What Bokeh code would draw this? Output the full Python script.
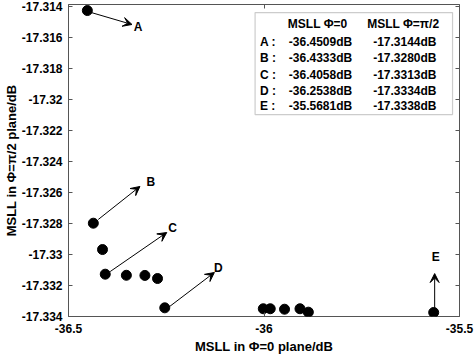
from bokeh.plotting import figure
from bokeh.models import (ColumnDataSource, Arrow, VeeHead, LinearAxis, FixedTicker,
                          BoxAnnotation, Range1d)
from bokeh.core.properties import value
from bokeh.embed import file_html
from bokeh.resources import INLINE

# ---- data ----
x_pts = [-36.4518, -36.4365, -36.4130, -36.4060, -36.3520, -36.3046, -36.2723, -36.2538,
         -36.0018, -35.9840, -35.9475, -35.9080, -35.8866, -35.5660]
y_pts = [-17.31426, -17.32798, -17.32968, -17.33127, -17.33134, -17.33135, -17.33155, -17.33344,
         -17.33350, -17.33350, -17.33353, -17.33350, -17.33372, -17.33374]

arrow_names = ["A", "B", "C", "D", "E"]
arrow_x0 = [-36.4416, -36.4239, -36.3934, -36.2411, -35.5635]
arrow_y0 = [-17.31439, -17.32774, -17.33110, -17.33335, -17.33342]
arrow_x1 = [-36.3376, -36.3173, -36.2487, -36.1269, -35.5635]
arrow_y1 = [-17.31516, -17.32561, -17.32858, -17.33116, -17.33123]
label_x = [-36.3223, -36.2893, -36.2335, -36.1168, -35.5609]
label_y = [-17.31529, -17.32535, -17.32826, -17.33090, -17.33013]

x_ticks = [-36.5, -36.0, -35.5]
x_tick_labels = ["-36.5", "-36", "-35.5"]
y_ticks = [-17.334, -17.332, -17.330, -17.328, -17.326, -17.324, -17.322, -17.320,
           -17.318, -17.316, -17.314]
y_tick_labels = ["-17.334", "-17.332", "-17.33", "-17.328", "-17.326", "-17.324", "-17.322",
                 "-17.32", "-17.318", "-17.316", "-17.314"]

table_headers = ["MSLL \u03a6=0", "MSLL \u03a6=\u03c0/2"]
table_rows = ["A :", "B :", "C :", "D :", "E :"]
table_col1 = ["-36.4509dB", "-36.4333dB", "-36.4058dB", "-36.2538dB", "-35.5681dB"]
table_col2 = ["-17.3144dB", "-17.3280dB", "-17.3313dB", "-17.3334dB", "-17.3338dB"]

# table layout (data units)
tab_left, tab_right, tab_top, tab_bottom = -36.0228, -35.5178, -17.31439, -17.32097
tab_header_y = -17.31516
tab_row_y = [-17.31626, -17.31732, -17.31839, -17.31942, -17.32045]
tab_label_x = -36.0102
tab_col1_x = -35.9365
tab_col2_x = -35.7208
tab_head1_x = -35.9390
tab_head2_x = -35.7360

FONT = "Liberation Sans"
GRAY = "#555555"

p = figure(width=474, height=356, x_range=Range1d(-36.5, -35.5),
           y_range=Range1d(-17.334, -17.31387),
           output_backend="svg", toolbar_location=None,
           min_border_left=64, min_border_right=15, min_border_top=4, min_border_bottom=0)
p.background_fill_color = "white"
p.border_fill_color = "white"
p.outline_line_color = GRAY
p.outline_line_width = 1
p.xgrid.visible = False
p.ygrid.visible = False

def style_axis(ax):
    ax.axis_line_color = None
    ax.major_tick_in = 4
    ax.major_tick_out = 0
    ax.minor_tick_in = 0
    ax.minor_tick_out = 0
    ax.major_tick_line_color = GRAY
    ax.major_label_text_font = FONT
    ax.major_label_text_font_style = "bold"
    ax.major_label_text_font_size = "12px"
    ax.major_label_text_color = "black"
    ax.axis_label_text_font = FONT
    ax.axis_label_text_font_style = "bold"
    ax.axis_label_text_font_size = "13px"
    ax.axis_label_text_color = "black"

xa = p.xaxis[0]
xa.ticker = FixedTicker(ticks=x_ticks)
xa.major_label_overrides = dict(zip(x_ticks, x_tick_labels))
xa.axis_label = "MSLL in \u03a6=0 plane/dB"
style_axis(xa)
xa.major_label_standoff = 7
xa.axis_label_standoff = 3

ya = p.yaxis[0]
ya.ticker = FixedTicker(ticks=y_ticks)
ya.major_label_overrides = dict(zip(y_ticks, y_tick_labels))
ya.axis_label = "MSLL in \u03a6=\u03c0/2 plane/dB"
style_axis(ya)
ya.major_label_standoff = 6
ya.axis_label_standoff = 0

top_ax = LinearAxis(ticker=FixedTicker(ticks=x_ticks))
style_axis(top_ax)
top_ax.major_label_text_font_size = "1px"
top_ax.major_label_overrides = {t: "" for t in x_ticks}
top_ax.major_label_standoff = 0
p.add_layout(top_ax, "above")
right_ax = LinearAxis(ticker=FixedTicker(ticks=y_ticks))
style_axis(right_ax)
right_ax.major_label_text_font_size = "1px"
right_ax.major_label_overrides = {t: "" for t in y_ticks}
right_ax.major_label_standoff = 0
p.add_layout(right_ax, "right")

# table box (below glyphs)
p.add_layout(BoxAnnotation(left=tab_left, right=tab_right, top=tab_top, bottom=tab_bottom,
                           fill_color="white", fill_alpha=1.0, line_color=GRAY, line_width=1.2,
                           level="underlay"))

# points
p.scatter(x=x_pts, y=y_pts, size=10, color="black")

# arrows
asrc = ColumnDataSource(dict(x0=arrow_x0, y0=arrow_y0, x1=arrow_x1, y1=arrow_y1))
p.add_layout(Arrow(end=VeeHead(size=9, fill_color="black", line_color="black", line_width=1),
                   x_start="x0", y_start="y0", x_end="x1", y_end="y1",
                   line_color="black", line_width=1, source=asrc))
p.text(x=label_x, y=label_y, text=arrow_names, text_font=value(FONT), text_font_style="bold",
       text_font_size="12px", text_align="center", text_baseline="middle", color="black")

# table text
p.text(x=[tab_head1_x, tab_head2_x], y=[tab_header_y, tab_header_y], text=table_headers,
       text_font=value(FONT), text_font_style="bold", text_font_size="12px",
       text_align="left", text_baseline="middle", color="black")
p.text(x=[tab_label_x] * len(table_rows), y=tab_row_y, text=table_rows,
       text_font=value(FONT), text_font_style="bold", text_font_size="12px",
       text_align="left", text_baseline="middle", color="black")
p.text(x=[tab_col1_x] * len(table_col1), y=tab_row_y, text=table_col1,
       text_font=value(FONT), text_font_style="bold", text_font_size="12px",
       text_align="left", text_baseline="middle", color="black")
p.text(x=[tab_col2_x] * len(table_col2), y=tab_row_y, text=table_col2,
       text_font=value(FONT), text_font_style="bold", text_font_size="12px",
       text_align="left", text_baseline="middle", color="black")

open("out.html", "w").write(file_html(p, INLINE))
